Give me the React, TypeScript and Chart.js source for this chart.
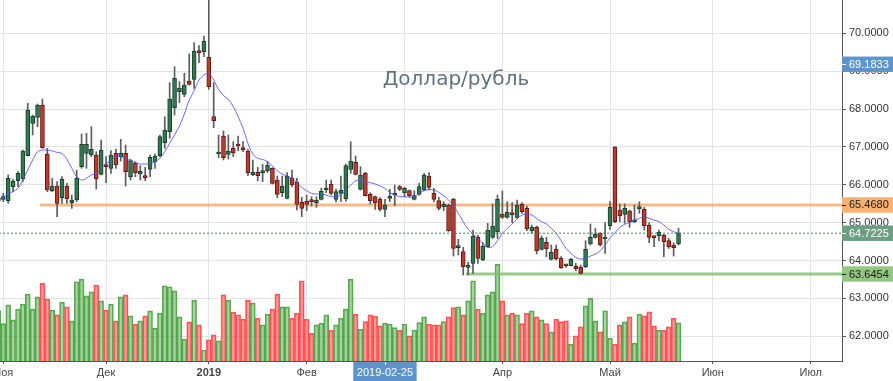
import React, { useEffect, useRef } from 'react';
import { Chart, registerables } from 'chart.js';

Chart.register(...registerables);

// ---- data (index = trading day, 0 = 1 Nov 2018) ----
const START_INDEX = -1;

const OPEN = [
  65.58, 65.616, 65.581, 65.951, 66.109, 66.153, 66.769, 67.623, 67.782, 68.107,
  66.813, 65.845, 65.968, 65.66, 65.968, 65.528, 65.599, 66.479, 66.831, 66.787,
  66.787, 66.276, 66.532, 66.435, 66.831, 66.743, 66.831, 66.215, 66.567, 66.294,
  66.232, 66.408, 66.611, 66.769, 67.113, 67.403, 68.037, 68.46, 68.389, 68.741,
  68.785, 69.507, 69.516, 69.366, 67.799, 66.813, 67.289, 66.805, 66.963, 67.051,
  66.972, 66.893, 66.268, 66.329, 66.32, 66.373, 66.435, 66.127, 65.792, 65.643,
  66.171, 66.065, 65.537, 65.572, 65.572, 65.528, 65.616, 65.863, 66.012, 65.616,
  65.775, 65.625, 66.408, 66.593, 65.88, 66.312, 65.748, 65.687, 65.616, 65.352,
  65.643, 65.731, 65.951, 65.792, 65.845, 65.616, 65.748, 65.863, 66.232, 65.775,
  65.581, 65.423, 65.467, 65.625, 64.34, 64.234, 63.82, 63.926, 64.613, 64.014,
  64.366, 64.613, 64.762, 65.229, 65.141, 65.229, 65.141, 65.484, 65.378, 64.789,
  64.877, 64.296, 64.481, 64.032, 64.296, 64.058, 63.873, 63.864, 63.856, 63.82,
  63.838, 64.437, 64.613, 64.718, 64.569, 64.921, 67.0, 65.335, 65.22, 65.308,
  65.026, 65.37, 65.352, 64.938, 64.648, 64.657, 64.674, 64.525, 64.41, 64.437,
];

const HIGH = [
  65.7, 65.775, 66.259, 66.144, 66.347, 66.919, 68.151, 67.843, 68.134, 68.266,
  66.963, 66.171, 66.083, 66.215, 66.039, 65.731, 66.391, 67.342, 67.359, 67.535,
  66.875, 67.183, 66.743, 66.901, 66.945, 67.201, 67.051, 66.672, 66.611, 66.505,
  66.461, 66.787, 66.813, 67.315, 67.799, 68.697, 69.12, 68.724, 68.944, 69.454,
  69.754, 69.674, 69.93, 71.2, 68.697, 67.315, 67.421, 67.315, 67.139, 67.289,
  67.139, 66.937, 66.655, 66.461, 66.54, 66.611, 66.453, 66.232, 66.232, 66.32,
  66.391, 66.171, 65.669, 65.731, 65.687, 65.687, 65.915, 66.127, 66.127, 65.889,
  66.232, 66.549, 67.139, 66.761, 66.479, 66.329, 65.792, 65.704, 65.66, 65.616,
  65.88, 65.995, 65.986, 65.933, 65.863, 65.845, 66.039, 66.303, 66.32, 65.907,
  65.669, 65.555, 65.493, 65.643, 64.56, 64.349, 63.952, 64.806, 64.674, 64.472,
  64.982, 65.493, 65.731, 65.836, 65.555, 65.528, 65.599, 65.528, 65.44, 64.938,
  64.912, 64.648, 64.613, 64.41, 64.41, 64.102, 63.9, 64.058, 63.926, 63.882,
  64.525, 64.965, 64.85, 64.736, 65.0, 65.555, 67.0, 65.493, 65.493, 65.335,
  65.467, 65.555, 65.405, 65.0, 64.648, 64.806, 64.692, 64.586, 64.472, 64.85,
];

const LOW = [
  65.52, 65.555, 65.511, 65.82, 65.95, 66.083, 66.76, 67.315, 67.535, 66.963,
  65.818, 65.818, 65.158, 65.511, 65.511, 65.378, 65.555, 66.435, 66.435, 66.743,
  65.889, 66.259, 66.056, 66.303, 66.435, 66.628, 65.968, 66.127, 66.215, 66.127,
  66.109, 66.215, 66.435, 66.743, 66.963, 67.227, 67.843, 68.169, 68.327, 68.636,
  68.548, 69.225, 69.384, 68.521, 67.509, 66.717, 66.655, 66.681, 66.743, 66.901,
  66.875, 66.241, 66.241, 66.109, 66.083, 66.32, 66.021, 65.66, 65.687, 65.625,
  65.951, 65.335, 65.158, 65.317, 65.44, 65.405, 65.599, 65.792, 65.731, 65.546,
  65.555, 65.563, 66.303, 66.259, 65.863, 65.704, 65.493, 65.352, 65.308, 65.158,
  65.555, 65.449, 65.845, 65.687, 65.687, 65.599, 65.731, 65.845, 65.863, 65.555,
  65.335, 65.317, 64.771, 64.12, 64.146, 63.618, 63.618, 63.662, 63.926, 63.996,
  64.349, 64.586, 64.586, 65.114, 65.114, 65.0, 65.114, 65.246, 64.789, 64.718,
  64.173, 64.278, 64.102, 64.014, 64.014, 63.794, 63.82, 63.856, 63.732, 63.644,
  63.812, 64.41, 64.586, 64.384, 64.19, 64.824, 65.0, 65.026, 64.982, 64.877,
  65.0, 65.246, 64.806, 64.472, 64.366, 64.525, 64.102, 64.322, 64.12, 64.41,
];

const CLOSE = [
  65.64, 65.687, 66.171, 66.1, 66.303, 66.893, 67.975, 67.817, 68.107, 66.981,
  65.863, 65.968, 65.511, 66.144, 65.634, 65.599, 66.171, 67.069, 67.069, 66.937,
  66.153, 66.919, 66.479, 66.787, 66.523, 66.831, 66.347, 66.637, 66.32, 66.356,
  66.188, 66.725, 66.761, 67.271, 67.447, 68.266, 68.812, 68.556, 68.636, 68.653,
  69.533, 69.489, 69.798, 68.592, 67.694, 66.866, 66.717, 66.893, 66.849, 67.025,
  66.928, 66.32, 66.329, 66.241, 66.364, 66.523, 66.039, 65.748, 65.968, 66.232,
  65.995, 65.484, 65.378, 65.484, 65.555, 65.599, 65.827, 65.889, 65.775, 65.819,
  65.863, 66.505, 66.628, 66.276, 66.259, 65.713, 65.581, 65.528, 65.352, 65.467,
  65.669, 65.775, 65.88, 65.907, 65.713, 65.713, 65.951, 66.259, 65.933, 65.616,
  65.378, 65.484, 64.789, 64.322, 64.366, 63.838, 63.864, 64.648, 64.058, 64.384,
  64.806, 64.912, 65.616, 65.141, 65.282, 65.211, 65.467, 65.29, 64.833, 64.877,
  64.261, 64.586, 64.305, 64.217, 64.049, 63.812, 63.864, 64.032, 63.785, 63.662,
  64.296, 64.613, 64.701, 64.41, 64.586, 65.405, 65.026, 65.185, 65.378, 65.026,
  65.053, 65.414, 64.921, 64.613, 64.604, 64.745, 64.498, 64.366, 64.34, 64.7225,
];

const VOLUME = [
  150, 112, 168, 123, 155, 170, 200, 155, 192, 233,
  185, 152, 138, 176, 162, 120, 237, 245, 195, 207,
  227, 180, 152, 170, 120, 192, 198, 135, 110, 120,
  135, 150, 98, 143, 225, 222, 210, 132, 65, 117,
  182, 108, 33, 63, 78, 60, 198, 182, 146, 138,
  125, 182, 173, 128, 108, 140, 155, 200, 162, 162,
  128, 143, 240, 125, 83, 108, 113, 138, 92, 108,
  128, 155, 245, 140, 95, 118, 138, 134, 105, 113,
  110, 100, 92, 110, 75, 92, 115, 132, 110, 108,
  108, 118, 132, 160, 162, 138, 180, 240, 155, 143,
  198, 207, 290, 180, 138, 143, 138, 112, 143, 150,
  132, 123, 112, 87, 125, 118, 120, 50, 75, 102,
  165, 188, 120, 87, 150, 68, 50, 108, 117, 132,
  53, 140, 135, 147, 105, 92, 92, 102, 128, 114,
];

const MOVING_AVG = [
  65.6, 65.669, 65.774, 65.818, 65.907, 66.127, 66.391, 66.655, 66.875, 66.919,
  66.919, 66.892, 66.857, 66.831, 66.672, 66.435, 66.215, 66.127, 66.171, 66.259,
  66.303, 66.435, 66.567, 66.637, 66.743, 66.743, 66.699, 66.637, 66.584, 66.549,
  66.549, 66.567, 66.611, 66.699, 66.875, 67.095, 67.315, 67.553, 67.87, 68.239,
  68.486, 68.768, 68.9, 68.944, 68.768, 68.521, 68.354, 68.257, 68.063, 67.799,
  67.491, 67.095, 66.813, 66.699, 66.672, 66.611, 66.496, 66.373, 66.285, 66.232,
  66.171, 66.056, 65.933, 65.845, 65.774, 65.757, 65.757, 65.73, 65.686, 65.695,
  65.73, 65.862, 65.994, 66.109, 66.127, 66.083, 66.056, 66.021, 65.968, 65.907,
  65.792, 65.73, 65.686, 65.686, 65.669, 65.686, 65.774, 65.845, 65.88, 65.862,
  65.801, 65.713, 65.598, 65.466, 65.246, 65.026, 64.824, 64.7, 64.586, 64.454,
  64.348, 64.366, 64.524, 64.718, 64.85, 64.965, 65.097, 65.202, 65.229, 65.202,
  65.114, 65.026, 64.965, 64.85, 64.718, 64.524, 64.322, 64.19, 64.084, 64.04,
  64.058, 64.119, 64.172, 64.26, 64.41, 64.604, 64.736, 64.877, 64.956, 65.0,
  65.07, 65.114, 65.158, 65.114, 65.07, 65.026, 64.938, 64.824, 64.762, 64.718,
];

const PRICE_TICKS = [62, 63, 64, 65, 66, 67, 68, 69, 70];
const MONTH_TICKS = [0, 21, 42, 62, 82, 102, 124, 145, 165];
const MONTH_LABELS = ['Ноя', 'Дек', '2019', 'Фев', 'Мар', 'Апр', 'Май', 'Июн', 'Июл'];

const TITLE = 'Доллар/рубль';
const LEVEL_ORANGE = 65.468;
const LEVEL_ORANGE_FROM = 7.5;
const LEVEL_GREEN = 63.6454;
const LEVEL_GREEN_FROM = 94.5;
const LAST_PRICE = 64.7225;
const CURSOR_PRICE = 69.1833;
const CURSOR_INDEX = 78;
const CURSOR_LABEL = '2019-02-25';

const X_MIN = -0.674;
const X_MAX = 171.41;
const Y_MIN = 61.348;
const Y_MAX = 70.88;
const VOL_MAX = 1080;

const FONT = '"Liberation Sans", Arial, sans-serif';

export default function App() {
  const ref = useRef<HTMLCanvasElement | null>(null);

  useEffect(() => {
    document.body.style.margin = '0';
    const xs = OPEN.map((_, k) => START_INDEX + k);
    const up = OPEN.map((o, k) => CLOSE[k] >= o);

    const overlay = {
      id: 'overlay',
      afterDraw(chart: any) {
        const ctx = chart.ctx;
        const area = chart.chartArea;
        const ys = chart.scales.y;
        const xsScale = chart.scales.x;
        ctx.save();
        ctx.font = '20px "DejaVu Sans", sans-serif';
        ctx.fillStyle = '#5f7282';
        ctx.textAlign = 'center';
        ctx.textBaseline = 'alphabetic';
        ctx.fillText(TITLE, area.left + 456, 85);

        const badges = [
          { v: CURSOR_PRICE, bg: '#5b95cb', fg: '#ffffff' },
          { v: LEVEL_ORANGE, bg: '#f6b170', fg: '#1a1a1a' },
          { v: LAST_PRICE, bg: '#6c9f82', fg: '#ffffff' },
          { v: LEVEL_GREEN, bg: '#94c882', fg: '#1a1a1a' },
        ];
        ctx.font = '11px ' + FONT;
        ctx.textAlign = 'left';
        ctx.textBaseline = 'middle';
        for (const b of badges) {
          const py = ys.getPixelForValue(b.v);
          ctx.fillStyle = b.bg;
          ctx.fillRect(area.right, py - 7.7, chart.width - area.right, 15.4);
          ctx.strokeStyle = b.fg;
          ctx.lineWidth = 1;
          ctx.beginPath();
          ctx.moveTo(area.right, Math.round(py) + 0.5);
          ctx.lineTo(area.right + 4, Math.round(py) + 0.5);
          ctx.stroke();
          ctx.fillStyle = b.fg;
          ctx.fillText(b.v.toFixed(4), area.right + 7, py + 0.5);
        }

        const cx = xsScale.getPixelForValue(CURSOR_INDEX);
        ctx.fillStyle = '#5b95cb';
        ctx.fillRect(cx - 31.7, area.bottom + 1, 63.4, chart.height - area.bottom - 1);
        ctx.strokeStyle = '#ffffff';
        ctx.beginPath();
        ctx.moveTo(Math.round(cx) + 0.5, area.bottom + 1);
        ctx.lineTo(Math.round(cx) + 0.5, area.bottom + 4);
        ctx.stroke();
        ctx.fillStyle = '#ffffff';
        ctx.textAlign = 'center';
        ctx.fillText(CURSOR_LABEL, cx, area.bottom + 11.5);
        ctx.restore();
      },
    };

    const chart = new Chart(ref.current as HTMLCanvasElement, {
      type: 'bar',
      data: {
        datasets: [
          {
            type: 'bar',
            yAxisID: 'yv',
            data: xs.map((x, k) => ({ x, y: VOLUME[k] })),
            backgroundColor: up.map((u) => (u ? 'rgba(80,170,70,0.5)' : 'rgba(255,60,60,0.5)')),
            borderColor: up.map((u) => (u ? 'rgba(72,160,62,0.9)' : 'rgba(255,72,72,0.9)')),
            borderWidth: 1,
            borderSkipped: 'start',
            grouped: false,
            categoryPercentage: 1,
            barPercentage: 1,
            order: 10,
          },
          {
            type: 'line',
            yAxisID: 'y',
            data: [
              { x: LEVEL_ORANGE_FROM, y: LEVEL_ORANGE },
              { x: X_MAX + 1, y: LEVEL_ORANGE },
            ],
            borderColor: 'rgba(244,164,96,0.75)',
            borderWidth: 3,
            pointRadius: 0,
            order: 9,
          },
          {
            type: 'line',
            yAxisID: 'y',
            data: [
              { x: LEVEL_GREEN_FROM, y: LEVEL_GREEN },
              { x: X_MAX + 1, y: LEVEL_GREEN },
            ],
            borderColor: 'rgba(128,190,108,0.8)',
            borderWidth: 3,
            pointRadius: 0,
            order: 8,
          },
          {
            type: 'bar',
            yAxisID: 'y',
            data: xs.map((x, k) => ({ x, y: [LOW[k], HIGH[k]] })),
            backgroundColor: '#5c5c5c',
            borderWidth: 0,
            grouped: false,
            categoryPercentage: 1,
            barPercentage: 1,
            maxBarThickness: 1,
            order: 7,
          },
          {
            type: 'bar',
            yAxisID: 'y',
            data: xs.map((x, k) => ({ x, y: [OPEN[k], CLOSE[k]] })),
            backgroundColor: up.map((u) => (u ? '#2f7a50' : '#c0392b')),
            borderColor: up.map((u) => (u ? '#1c3d2a' : '#5a1d16')),
            borderWidth: 1,
            borderSkipped: false,
            grouped: false,
            categoryPercentage: 1,
            barPercentage: 1,
            maxBarThickness: 4,
            minBarLength: 2,
            order: 6,
          },
          {
            type: 'line',
            yAxisID: 'y',
            data: xs.map((x, k) => ({ x, y: MOVING_AVG[k] })),
            borderColor: 'rgba(80,80,255,0.85)',
            borderWidth: 1,
            pointRadius: 0,
            tension: 0.3,
            order: 5,
          },
          {
            type: 'line',
            yAxisID: 'y',
            data: [
              { x: X_MIN - 1, y: LAST_PRICE },
              { x: X_MAX + 1, y: LAST_PRICE },
            ],
            borderColor: '#3f7d5a',
            borderWidth: 1,
            borderDash: [2, 2],
            pointRadius: 0,
            order: 4,
          },
        ] as any,
      },
      options: {
        animation: false,
        responsive: true,
        maintainAspectRatio: false,
        devicePixelRatio: 1,
        events: [],
        layout: { padding: 0 },
        plugins: { legend: { display: false }, tooltip: { enabled: false }, title: { display: false } },
        scales: {
          x: {
            type: 'linear',
            position: 'bottom',
            offset: false,
            min: X_MIN,
            max: X_MAX,
            grid: { color: '#e3e3e3', tickColor: '#555', tickLength: 3, lineWidth: 1, offset: false },
            border: { color: '#555', width: 1 },
            ticks: {
              autoSkip: false,
              maxRotation: 0,
              padding: 2,
              color: '#444',
              font: (c: any) => ({
                family: FONT,
                size: 11,
                weight: c.tick && c.tick.value === MONTH_TICKS[2] ? 'bold' : 'normal',
              }),
              callback: (_v: any, i: number) => MONTH_LABELS[i],
            },
            afterBuildTicks: (s: any) => {
              s.ticks = MONTH_TICKS.map((v) => ({ value: v }));
            },
            afterFit: (s: any) => {
              s.height = 20;
              s.paddingLeft = 0;
              s.paddingRight = 0;
              s.paddingTop = 0;
              s.paddingBottom = 0;
            },
          },
          y: {
            type: 'linear',
            position: 'right',
            min: Y_MIN,
            max: Y_MAX,
            grid: { color: '#e3e3e3', tickColor: '#555', tickLength: 4, lineWidth: 1 },
            border: { color: '#555', width: 1 },
            ticks: {
              padding: 3,
              color: '#333',
              font: { family: FONT, size: 11 },
              callback: (v: any) => Number(v).toFixed(4),
            },
            afterBuildTicks: (s: any) => {
              s.ticks = PRICE_TICKS.map((v) => ({ value: v }));
            },
            afterFit: (s: any) => {
              s.width = 51;
              s.paddingLeft = 0;
              s.paddingRight = 0;
              s.paddingTop = 0;
              s.paddingBottom = 0;
            },
          },
          yv: {
            type: 'linear',
            display: false,
            min: 0,
            max: VOL_MAX,
          },
        },
      } as any,
      plugins: [overlay],
    });

    return () => chart.destroy();
  }, []);

  return (
    <div style={{ position: 'fixed', left: 0, top: 0, width: 893, height: 381 }}>
      <canvas ref={ref} />
    </div>
  );
}
